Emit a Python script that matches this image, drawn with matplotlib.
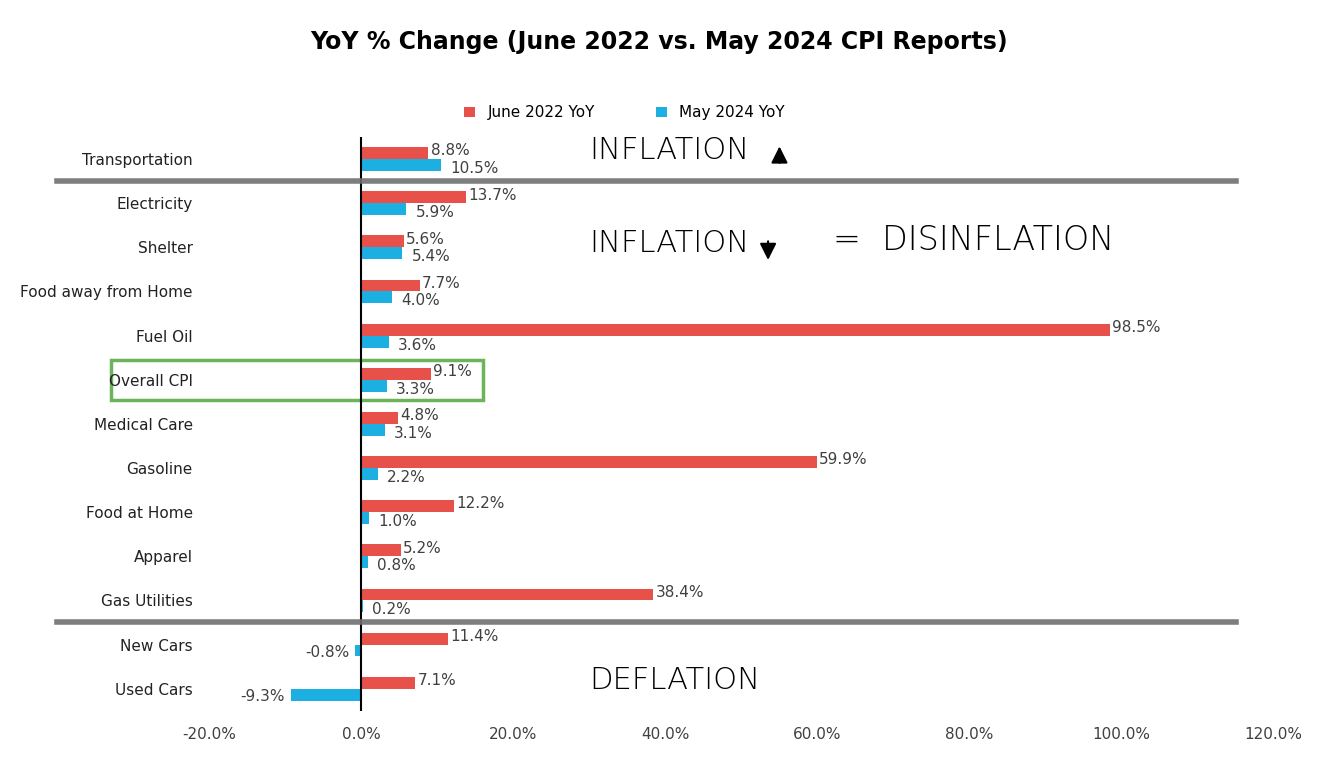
import matplotlib.pyplot as plt
from matplotlib.patches import Rectangle
from matplotlib.lines import Line2D

categories = ["Transportation", "Electricity", "Shelter", "Food away from Home", "Fuel Oil",
              "Overall CPI", "Medical Care", "Gasoline", "Food at Home", "Apparel",
              "Gas Utilities", "New Cars", "Used Cars"]
june_2022 = [8.8, 13.7, 5.6, 7.7, 98.5, 9.1, 4.8, 59.9, 12.2, 5.2, 38.4, 11.4, 7.1]
may_2024 = [10.5, 5.9, 5.4, 4.0, 3.6, 3.3, 3.1, 2.2, 1.0, 0.8, 0.2, -0.8, -9.3]
xticks = [-20, 0, 20, 40, 60, 80, 100, 120]

red = "#E8504A"
blue = "#1CB0E2"

fig = plt.figure(figsize=(13.17, 7.61), dpi=100)
ax = fig.add_axes([0.159, 0.066, 0.808, 0.754])
n = len(categories)
ys = list(range(n))
h = 0.27
ax.barh([y - h / 2 for y in ys], june_2022, height=h, color=red, label="June 2022 YoY")
ax.barh([y + h / 2 for y in ys], may_2024, height=h, color=blue, label="May 2024 YoY")
for y, a, b in zip(ys, june_2022, may_2024):
    ax.text(a + 0.3, y - h / 2 - 0.05, f"{a:.1f}%", va="center", ha="left", fontsize=11, color="#404040")
    if b >= 0:
        ax.text(b + 1.2, y + h / 2 + 0.08, f"{b:.1f}%", va="center", ha="left", fontsize=11, color="#404040")
    else:
        ax.text(b - 0.8, y + h / 2 + 0.05, f"{b:.1f}%", va="center", ha="right", fontsize=11, color="#404040")

ax.set_ylim(n - 0.5, -0.5)
ax.set_xlim(-20, 120)
ax.set_xticks(xticks)
ax.set_xticklabels([f"{t:.1f}%" for t in xticks], fontsize=11, color="#404040")
ax.set_yticks(ys)
ax.set_yticklabels(categories, fontsize=11, color="#222222")
ax.tick_params(length=0, pad=12)
for s in ax.spines.values():
    s.set_visible(False)
ax.axvline(0, color="black", lw=1.5)

# gray separators across the whole width
for yv in [0.5, 10.5]:
    ax.add_line(Line2D([-40, 115], [yv, yv], color="#707070", lw=4, alpha=0.9, clip_on=False))

# green box around Overall CPI
ax.add_patch(Rectangle((-33, 4.55), 49, 0.9, fill=False, edgecolor="#6DB35A", lw=2.5, clip_on=False))

hand = dict(fontsize=22, color="black", family="DejaVu Sans", fontweight="light")
ax.text(30, 0.0, "INFLATION", **hand)
ax.annotate("", xy=(55, -0.35), xytext=(55, 0.15),
            arrowprops=dict(arrowstyle="-|>", color="black", lw=1.5, mutation_scale=25, facecolor="#3CB043"))
ax.text(30, 2.1, "INFLATION", **hand)
ax.annotate("", xy=(53.5, 2.35), xytext=(53.5, 1.8),
            arrowprops=dict(arrowstyle="-|>", color="black", lw=1.5, mutation_scale=25, facecolor="#D92020"))
ax.text(62, 2.05, "=  DISINFLATION", fontsize=24, color="black", fontweight="light")
ax.text(30, 12.0, "DEFLATION", **hand)

fig.suptitle("YoY % Change (June 2022 vs. May 2024 CPI Reports)", fontsize=17, fontweight="bold", y=0.96)
ax.legend(loc="lower center", bbox_to_anchor=(0.39, 1.005), ncol=2, frameon=False, fontsize=11,
          handlelength=0.7, handleheight=0.7, columnspacing=4)
fig.savefig("out.png", dpi=100)
